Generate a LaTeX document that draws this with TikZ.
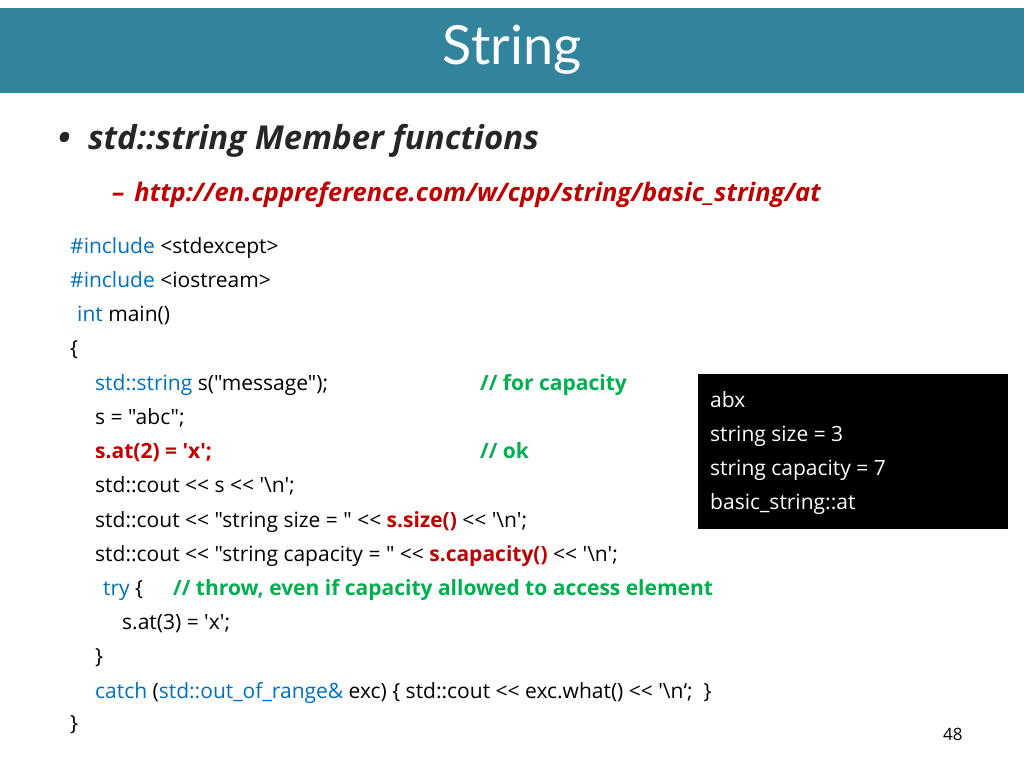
\documentclass[tikz,border=0pt]{standalone}
\usepackage{fontspec}
\newfontfamily\cf{Open Sans}
\newfontfamily\tf{Lato}
\definecolor{band}{RGB}{49,132,155}
\definecolor{kw}{RGB}{0,112,192}
\definecolor{cm}{RGB}{0,176,80}
\definecolor{rd}{RGB}{192,0,0}
\definecolor{hd}{RGB}{38,38,38}
\newcommand{\K}[1]{\textcolor{kw}{#1}}
\newcommand{\G}[1]{\textcolor{cm}{\bfseries #1}}
\newcommand{\R}[1]{\textcolor{rd}{\bfseries #1}}
\newcommand{\bs}{\textbackslash}
\begin{document}
\begin{tikzpicture}[x=1pt,y=-1pt,
  code/.style={anchor=base west,inner sep=0pt,font=\cf\fontsize{21}{26}\selectfont,text=black},
  outtext/.style={anchor=base west,inner sep=0pt,font=\cf\fontsize{21}{26}\selectfont,text=white}]
\useasboundingbox (0,0) rectangle (1024,768);
\fill[white] (0,0) rectangle (1024,768);
\fill[band] (0,8) rectangle (1024,93);
\node[text=white,font=\tf\fontsize{54}{60}\selectfont] (title) at (512,50) {String};
\node[anchor=base west,inner sep=0pt,text=hd,font=\cf\fontsize{33}{40}\selectfont\bfseries\itshape] (b1) at (58,149) {\textbullet\hspace{18pt}std::string Member functions};
\node[anchor=base west,inner sep=0pt,text=rd,font=\cf\fontsize{25.5}{32}\selectfont\bfseries\itshape] (b2) at (112,201) {\textendash\hspace{10pt}http://en.cppreference.com/w/cpp/string/basic\_string/at};
\node[code] (l1) at (70,253) {\K{\#include} <stdexcept>};
\node[code] (l2) at (70,287) {\K{\#include} <iostream>};
\node[code] (l3) at (77,321) {\K{int} main()};
\node[code] (l4) at (70,355) {\{};
\node[code] (l5) at (95,390) {\K{std::string} s("message");};
\node[code] (c5) at (480,390) {\G{// for capacity}};
\node[code] (l6) at (95,424) {s = "abc";};
\node[code] (l7) at (95,458) {\R{s.at(2) = 'x';}};
\node[code] (c7) at (480,458) {\G{// ok}};
\node[code] (l8) at (95,492) {std::cout << s << '\bs n';};
\node[code] (l9) at (95,527) {std::cout << "string size = " << \R{s.size()} << '\bs n';};
\node[code] (l10) at (95,561) {std::cout << "string capacity = " << \R{s.capacity()} << '\bs n';};
\node[code] (l11) at (103,595) {\K{try} \{};
\node[code] (c11) at (173,595) {\G{// throw, even if capacity allowed to access element}};
\node[code] (l12) at (122,629) {s.at(3) = 'x';};
\node[code] (l13) at (95,663) {\}};
\node[code] (l14) at (95,698) {\K{catch} (\K{std::out\_of\_range\&} exc) \{ std::cout << exc.what() << '\bs n‘;\ \ \}};
\node[code] (l15) at (70,730) {\}};
\fill[black] (698,374) rectangle (1008,529);
\node[outtext] (o1) at (710,407) {abx};
\node[outtext] (o2) at (710,441) {string size = 3};
\node[outtext] (o3) at (710,475) {string capacity = 7};
\node[outtext] (o4) at (710,509) {basic\_string::at};
\node[anchor=base west,inner sep=0pt,font=\cf\fontsize{17}{20}\selectfont] (pg) at (943,740) {48};
\end{tikzpicture}
\end{document}
